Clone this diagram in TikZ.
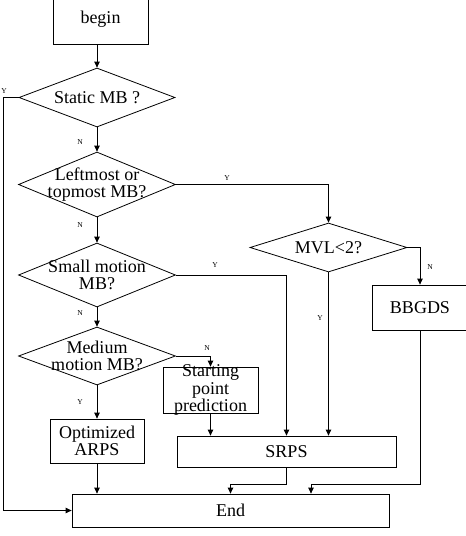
\documentclass[tikz,border=0pt]{standalone}
\usepackage{fontspec}
\setmainfont{Liberation Serif}
\usetikzlibrary{arrows.meta,shapes.geometric}

\begin{document}
\begin{tikzpicture}[x=1pt, y=-1pt, line width=0.8pt,
	box/.style={draw, rectangle, inner sep=0pt, align=center, font=\fontsize{18}{17.5}\selectfont},
	decision/.style={draw, diamond, inner sep=0pt},
	dtext/.style={align=center, inner sep=0pt, font=\fontsize{18}{17.5}\selectfont},
	yn/.style={inner sep=0pt, font=\fontsize{7.5}{8}\selectfont},
	arr/.style={-{Triangle[length=6pt,width=5.5pt]}}]
\useasboundingbox (0,0) rectangle (466,536);

\node[box, minimum width=95pt, minimum height=49pt] (begin) at (100.5,19.5) {begin};
\node[decision, minimum width=156pt, minimum height=59pt,
	label={[dtext]center:Static MB ?}] (static) at (97,97.5) {};
\node[decision, minimum width=157pt, minimum height=65pt,
	label={[dtext]center:Leftmost or\\topmost MB?}] (lefttop) at (97,184.5) {};
\node[decision, minimum width=157pt, minimum height=49pt,
	label={[dtext]center:MVL<2?}] (mvl) at (328.5,247.5) {};
\node[decision, minimum width=157pt, minimum height=64pt,
	label={[dtext]center:Small motion\\MB?}] (small) at (97,275) {};
\node[decision, minimum width=157pt, minimum height=58pt,
	label={[dtext]center:Medium\\motion MB?}] (medium) at (97,356) {};
\node[box, minimum width=96pt, minimum height=45pt] (bbgds) at (420,307.5) {BBGDS};
\node[box, minimum width=95pt, minimum height=46pt,
	label={[dtext]center:Starting\\point\\prediction}] (start) at (210.5,390) {};
\node[box, minimum width=94pt, minimum height=44pt] (optarps) at (97,441) {Optimized\\ARPS};
\node[box, minimum width=219pt, minimum height=31pt] (srps) at (286.5,451.5) {SRPS};
\node[box, minimum width=317pt, minimum height=33pt] (end) at (230.5,510.5) {End};

\node[yn] (ystatic) at (4,91) {Y};
\node[yn] (nstatic) at (80,142) {N};
\node[yn] (ylefttop) at (227,178) {Y};
\node[yn] (nlefttop) at (80,225) {N};
\node[yn] (nmvl) at (430,267) {N};
\node[yn] (ymvl) at (320,318) {Y};
\node[yn] (ysmall) at (215,265) {Y};
\node[yn] (nsmall) at (80,313) {N};
\node[yn] (nmedium) at (207,348) {N};
\node[yn] (ymedium) at (80,402) {Y};

\draw[arr] (begin.south -| static.north) -- (static.north);
\draw[arr] (static.west) -- ++(-15,0) |- (end.west);
\draw[arr] (static.south) -- (lefttop.north);
\draw[arr] (lefttop.east) -| (mvl.north);
\draw[arr] (lefttop.south) -- (small.north);
\draw[arr] (mvl.east) -| (bbgds.north);
\draw[arr] (mvl.south) -- (mvl.south |- srps.north);
\draw[arr] (small.east) -| (srps.north);
\draw[arr] (small.south) -- (medium.north);
\draw[arr] (medium.east) -| (start.north);
\draw[arr] (medium.south) -- (optarps.north);
\draw[arr] (start.south) -- (start.south |- srps.north);
\draw[arr] (optarps.south) -- (optarps.south |- end.north);
\draw[arr] (srps.south) -- ++(0,17) -| (end.north);
\coordinate (joinb) at (311,484);
\draw[arr] (bbgds.south) |- (joinb) -- (joinb |- end.north);
\end{tikzpicture}
\end{document}
